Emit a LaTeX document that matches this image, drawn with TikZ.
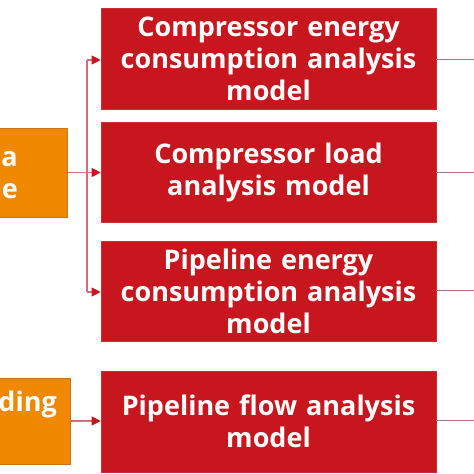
\documentclass[tikz,border=0pt]{standalone}
\usepackage{fontspec}
\setmainfont{Open Sans}
\usetikzlibrary{arrows.meta}
\definecolor{boxred}{HTML}{C8161E}
\definecolor{boxorange}{HTML}{F08800}
\definecolor{orangeedge}{HTML}{C9741A}
\definecolor{linkpink}{HTML}{D86A7A}
\definecolor{linkgray}{HTML}{B8707A}
\tikzset{
  redbox/.style={fill=boxred, draw=boxred!90!white, line width=0.6pt, minimum width=335pt, text width=330pt, align=center, text=white, font=\bfseries\fontsize{27}{32}\selectfont, inner sep=0pt},
  orangebox/.style={fill=boxorange, draw=orangeedge, line width=0.8pt},
  orangetext/.style={text=white, font=\bfseries\fontsize{27}{32}\selectfont, inner sep=0pt},
  link/.style={draw=linkpink, line width=1.1pt},
  arr/.style={link, -{Triangle[length=9pt,width=9pt,color=boxred]}},
  outlink/.style={draw=linkgray, line width=1pt}
}
\begin{document}
\begin{tikzpicture}[x=1pt,y=1pt]
\useasboundingbox (0,0) rectangle (474,474);
% red boxes
\node[redbox, minimum height=101pt] (b1) at (268.5,415.5) {Compressor energy\\consumption analysis\\model};
\node[redbox, minimum height=100pt] (b2) at (268.5,302) {Compressor load\\analysis model};
\node[redbox, minimum height=100pt] (b3) at (268.5,183) {Pipeline energy\\consumption analysis\\model};
\node[redbox, minimum height=101pt] (b4) at (268.5,52.5) {Pipeline flow analysis\\model};
% orange boxes
\node[orangebox, minimum width=80pt, minimum height=89pt, anchor=east] (o1) at (68,301.5) {};
\node[orangebox, minimum width=80pt, minimum height=86pt, anchor=east] (o2) at (71,53) {};
\node[orangetext, anchor=base east] (t1) at (18,307) {a};
\node[orangetext, anchor=base east] (t2) at (18,275) {e};
\node[orangetext, anchor=base east] (t3) at (57,62) {ding};
% connectors
\coordinate (v1) at (87,414);
\coordinate (v3) at (87,182);
\draw[link] (v1) -- (v3);
\draw[arr] (v1) -- (b1.west |- v1);
\draw[arr] (o1.east) -- (b2.west |- o1.east);
\draw[arr] (v3) -- (b3.west |- v3);
\draw[arr] (o2.east) -- (b4.west |- o2.east);
% outgoing lines
\coordinate (r1) at (474,414);
\coordinate (r2) at (474,301);
\coordinate (r3) at (474,183);
\coordinate (r4) at (474,53);
\draw[outlink] (b1.east |- r1) -- (r1);
\draw[outlink] (b2.east |- r2) -- (r2);
\draw[outlink] (b3.east |- r3) -- (r3);
\draw[outlink] (b4.east |- r4) -- (r4);
\end{tikzpicture}
\end{document}
